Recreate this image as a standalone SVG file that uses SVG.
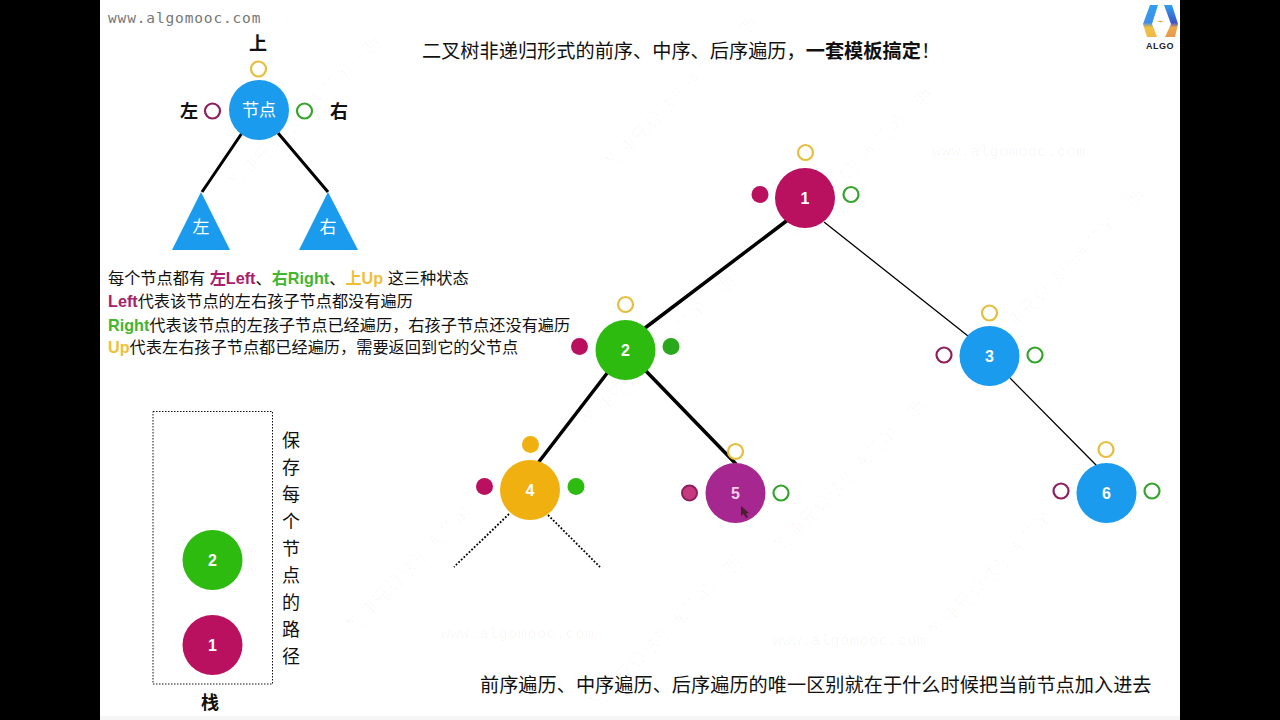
<svg xmlns="http://www.w3.org/2000/svg" width="1280" height="720" viewBox="0 0 1280 720">
<style>
text{font-family:"Liberation Sans","Noto Sans CJK SC",sans-serif}
.n{fill:#fff;font-size:16px;font-weight:700;text-anchor:middle}
.h{fill:#fff;font-size:17px;text-anchor:middle;font-family:"Noto Sans CJK SC",sans-serif}
.t{fill:#111;font-size:16.200px}
.u{fill:#fff;stroke-width:2.2}
.lf{stroke:#8e1f5e}.rt{stroke:#35a32c}.up{stroke:#e6bd3c}
.m{fill:#b9105f}.g{fill:#2dbb10}.y{fill:#efb010}
.wm{fill:#000;fill-opacity:.028;font-size:19px;font-family:"Noto Sans CJK SC",sans-serif}
.wu{fill:#000;fill-opacity:.04;font-family:"Liberation Mono",monospace;font-size:15px;letter-spacing:.6px}
.c{font-weight:700}
</style>
<defs>
<linearGradient id="lg" x1="0" y1="0" x2="0" y2="1"><stop offset="0" stop-color="#2f9ff0"/><stop offset=".55" stop-color="#3f8fe8"/><stop offset=".7" stop-color="#f0c040"/><stop offset="1" stop-color="#f2b84a"/></linearGradient>
<linearGradient id="rg" x1="0" y1="0" x2="0" y2="1"><stop offset="0" stop-color="#2f9ff0"/><stop offset=".55" stop-color="#3a55cc"/><stop offset=".7" stop-color="#eea84a"/><stop offset="1" stop-color="#e89a50"/></linearGradient>
</defs>
<rect width="1280" height="720" fill="#000"/>
<rect x="100" width="1080" height="720" fill="#fff"/>
<rect x="100" y="716" width="1080" height="4" fill="#f6f6f6"/>
<g id="watermarks">
<text class="wm" transform="translate(235 192) rotate(-45)">黄浦兄算法训练营第一期</text>
<text class="wm" transform="translate(353 635) rotate(-45)">黄浦兄算法训练营第一期</text>
<text class="wm" transform="translate(596 712) rotate(-45)">黄浦兄算法训练营第一期</text>
<text class="wm" transform="translate(935 640) rotate(-45)">黄浦兄算法训练营第一期</text>
<text class="wm" transform="translate(780 555) rotate(-45)">黄浦兄算法训练营第一期</text>
<text class="wm" transform="translate(1000 345) rotate(-45)">黄浦兄算法训练营第一期</text>
<text class="wm" transform="translate(787 243) rotate(-45)">黄浦兄算法训练营第一期</text>
<text class="wm" transform="translate(612 172) rotate(-45)">黄浦兄算法训练营第一期</text>
<text class="wm" transform="translate(590 430) rotate(-45)">黄浦兄算法训练营第一期</text>
<text class="wu" x="932" y="156">www.algomooc.com</text>
<text class="wu" x="441" y="638">www.algomooc.com</text>
<text class="wu" x="773" y="645">www.algomooc.com</text>
</g>
<g id="connectors" stroke="#000" fill="none">
<path d="M242 133L202 192M278 133L328 192" stroke-width="3"/>
<path d="M789 219L645 328M645 370L736 464M608 372L538 463" stroke-width="3.5"/>
<path d="M824 222L968 336M1010 378L1098 467" stroke-width="1.3"/>
<path d="M509 514L454 567M548 515L600 567" stroke-width="1.8" stroke-dasharray="1.800 1.800"/>
</g>
<g id="header">
<text x="108" y="23" fill="#777" font-size="14.500" letter-spacing=".85" style="font-family:'DejaVu Sans Mono',monospace">www.algomooc.com</text>
<text x="422" y="58" fill="#111" font-size="19.200">二叉树非递归形式的前序、中序、后序遍历，<tspan font-weight="700">一套模板搞定</tspan>！</text>
</g>
<g id="logo">
<path d="M1150 5H1158L1152 24L1157 37H1147L1143 24Z" fill="url(#lg)"/>
<path d="M1164 5H1172L1178 24L1175 37H1165L1171 24Z" fill="url(#rg)"/>
<path d="M1157 21H1164L1160.500 22.500Z" fill="#e9a040"/>
<text x="1160" y="49" text-anchor="middle" font-size="9" font-weight="700" letter-spacing=".5" fill="#223">ALGO</text>
</g>
<g id="legend-node">
<circle cx="259" cy="110" r="30" fill="#1a9bee"/>
<text class="h" x="259" y="116">节点</text>
<circle class="u up" cx="258.500" cy="69" r="7.500"/>
<circle class="u lf" cx="212.500" cy="111" r="7.500"/>
<circle class="u rt" cx="304.500" cy="111" r="7.500"/>
<text x="258" y="50" text-anchor="middle" font-size="18" class="c" fill="#111">上</text>
<text x="189" y="118" text-anchor="middle" font-size="18" class="c" fill="#111">左</text>
<text x="339" y="118" text-anchor="middle" font-size="18" class="c" fill="#111">右</text>
</g>
<g id="legend-left"><path d="M201 192L230 250H172Z" fill="#1a9bee"/><text class="h" x="201" y="233">左</text></g>
<g id="legend-right"><path d="M328 192L358 250H299Z" fill="#1a9bee"/><text class="h" x="328" y="233">右</text></g>
<g id="legend-text">
<text class="t" x="108" y="284">每个节点都有 <tspan class="c" fill="#a8206c">左Left</tspan>、<tspan class="c" fill="#43b52f">右Right</tspan>、<tspan class="c" fill="#eec03a">上Up</tspan> 这三种状态</text>
<text class="t" x="108" y="307"><tspan class="c" fill="#a8206c">Left</tspan>代表该节点的左右孩子节点都没有遍历</text>
<text class="t" x="108" y="331"><tspan class="c" fill="#43b52f">Right</tspan>代表该节点的左孩子节点已经遍历，右孩子节点还没有遍历</text>
<text class="t" x="108" y="353"><tspan class="c" fill="#eec03a">Up</tspan>代表左右孩子节点都已经遍历，需要返回到它的父节点</text>
</g>
<g id="node1"><circle cx="805" cy="198" r="30" class="m"/><text class="n" x="805" y="204">1</text>
<circle class="u up" cx="805.500" cy="152.500" r="7.500"/><circle class="m" cx="760" cy="194.500" r="8.500"/><circle class="u rt" cx="851" cy="194.500" r="7.500"/></g>
<g id="node2"><circle cx="625.500" cy="350" r="30" class="g"/><text class="n" x="625.500" y="356">2</text>
<circle class="u up" cx="625.500" cy="304.500" r="7.500"/><circle class="m" cx="579.500" cy="346.500" r="8.500"/><circle cx="671" cy="346.500" r="8.500" fill="#2aa81c"/></g>
<g id="node3"><circle cx="989.500" cy="356" r="30" fill="#1a9bee"/><text class="n" x="989.500" y="362">3</text>
<circle class="u up" cx="989.500" cy="313" r="7.500"/><circle class="u lf" cx="944" cy="355" r="7.500"/><circle class="u rt" cx="1035" cy="355" r="7.500"/></g>
<g id="node4"><circle cx="530" cy="490" r="30" class="y"/><text class="n" x="530" y="496">4</text>
<circle class="y" cx="530.500" cy="444.500" r="8.500"/><circle class="m" cx="484.500" cy="486.500" r="8.500"/><circle class="g" cx="576" cy="486.500" r="8.500"/></g>
<g id="node5"><circle cx="735.500" cy="493" r="30" fill="#a5278f"/><text class="n" x="735.500" y="499" style="fill:#f8d0e8">5</text>
<circle class="u up" cx="735.500" cy="451.500" r="7.500"/><circle cx="689.500" cy="493" r="7.500" fill="#c83a80" stroke="#8e1f5e" stroke-width="2"/><circle class="u rt" cx="781" cy="493" r="7.500"/>
<path d="M741 506L741 516L743.500 514L746 518L748 517L746 513.500L749 513Z" fill="#4a2030"/></g>
<g id="node6"><circle cx="1106.500" cy="493" r="30" fill="#1a9bee"/><text class="n" x="1106.500" y="499">6</text>
<circle class="u up" cx="1106" cy="449.500" r="7.500"/><circle class="u lf" cx="1061" cy="491" r="7.500"/><circle class="u rt" cx="1152" cy="491" r="7.500"/></g>
<g id="stack">
<rect x="153" y="411.500" width="119.500" height="272.500" fill="none" stroke="#111" stroke-width="1" stroke-dasharray="1.500 1.500"/>
<circle cx="212.500" cy="560" r="30" class="g"/><text class="n" x="212.500" y="566">2</text>
<circle cx="212.500" cy="645" r="30" class="m"/><text class="n" x="212.500" y="651">1</text>
<text x="210" y="709" text-anchor="middle" font-size="18" class="c" fill="#111">栈</text>
<g font-size="18" fill="#111" text-anchor="middle">
<text x="291" y="447">保</text><text x="291" y="474">存</text><text x="291" y="501">每</text><text x="291" y="528">个</text><text x="291" y="555">节</text><text x="291" y="582">点</text><text x="291" y="609">的</text><text x="291" y="636">路</text><text x="291" y="663">径</text>
</g>
</g>
<g id="footer"><text x="480" y="692" fill="#111" font-size="19.200">前序遍历、中序遍历、后序遍历的唯一区别就在于什么时候把当前节点加入进去</text></g>
</svg>
